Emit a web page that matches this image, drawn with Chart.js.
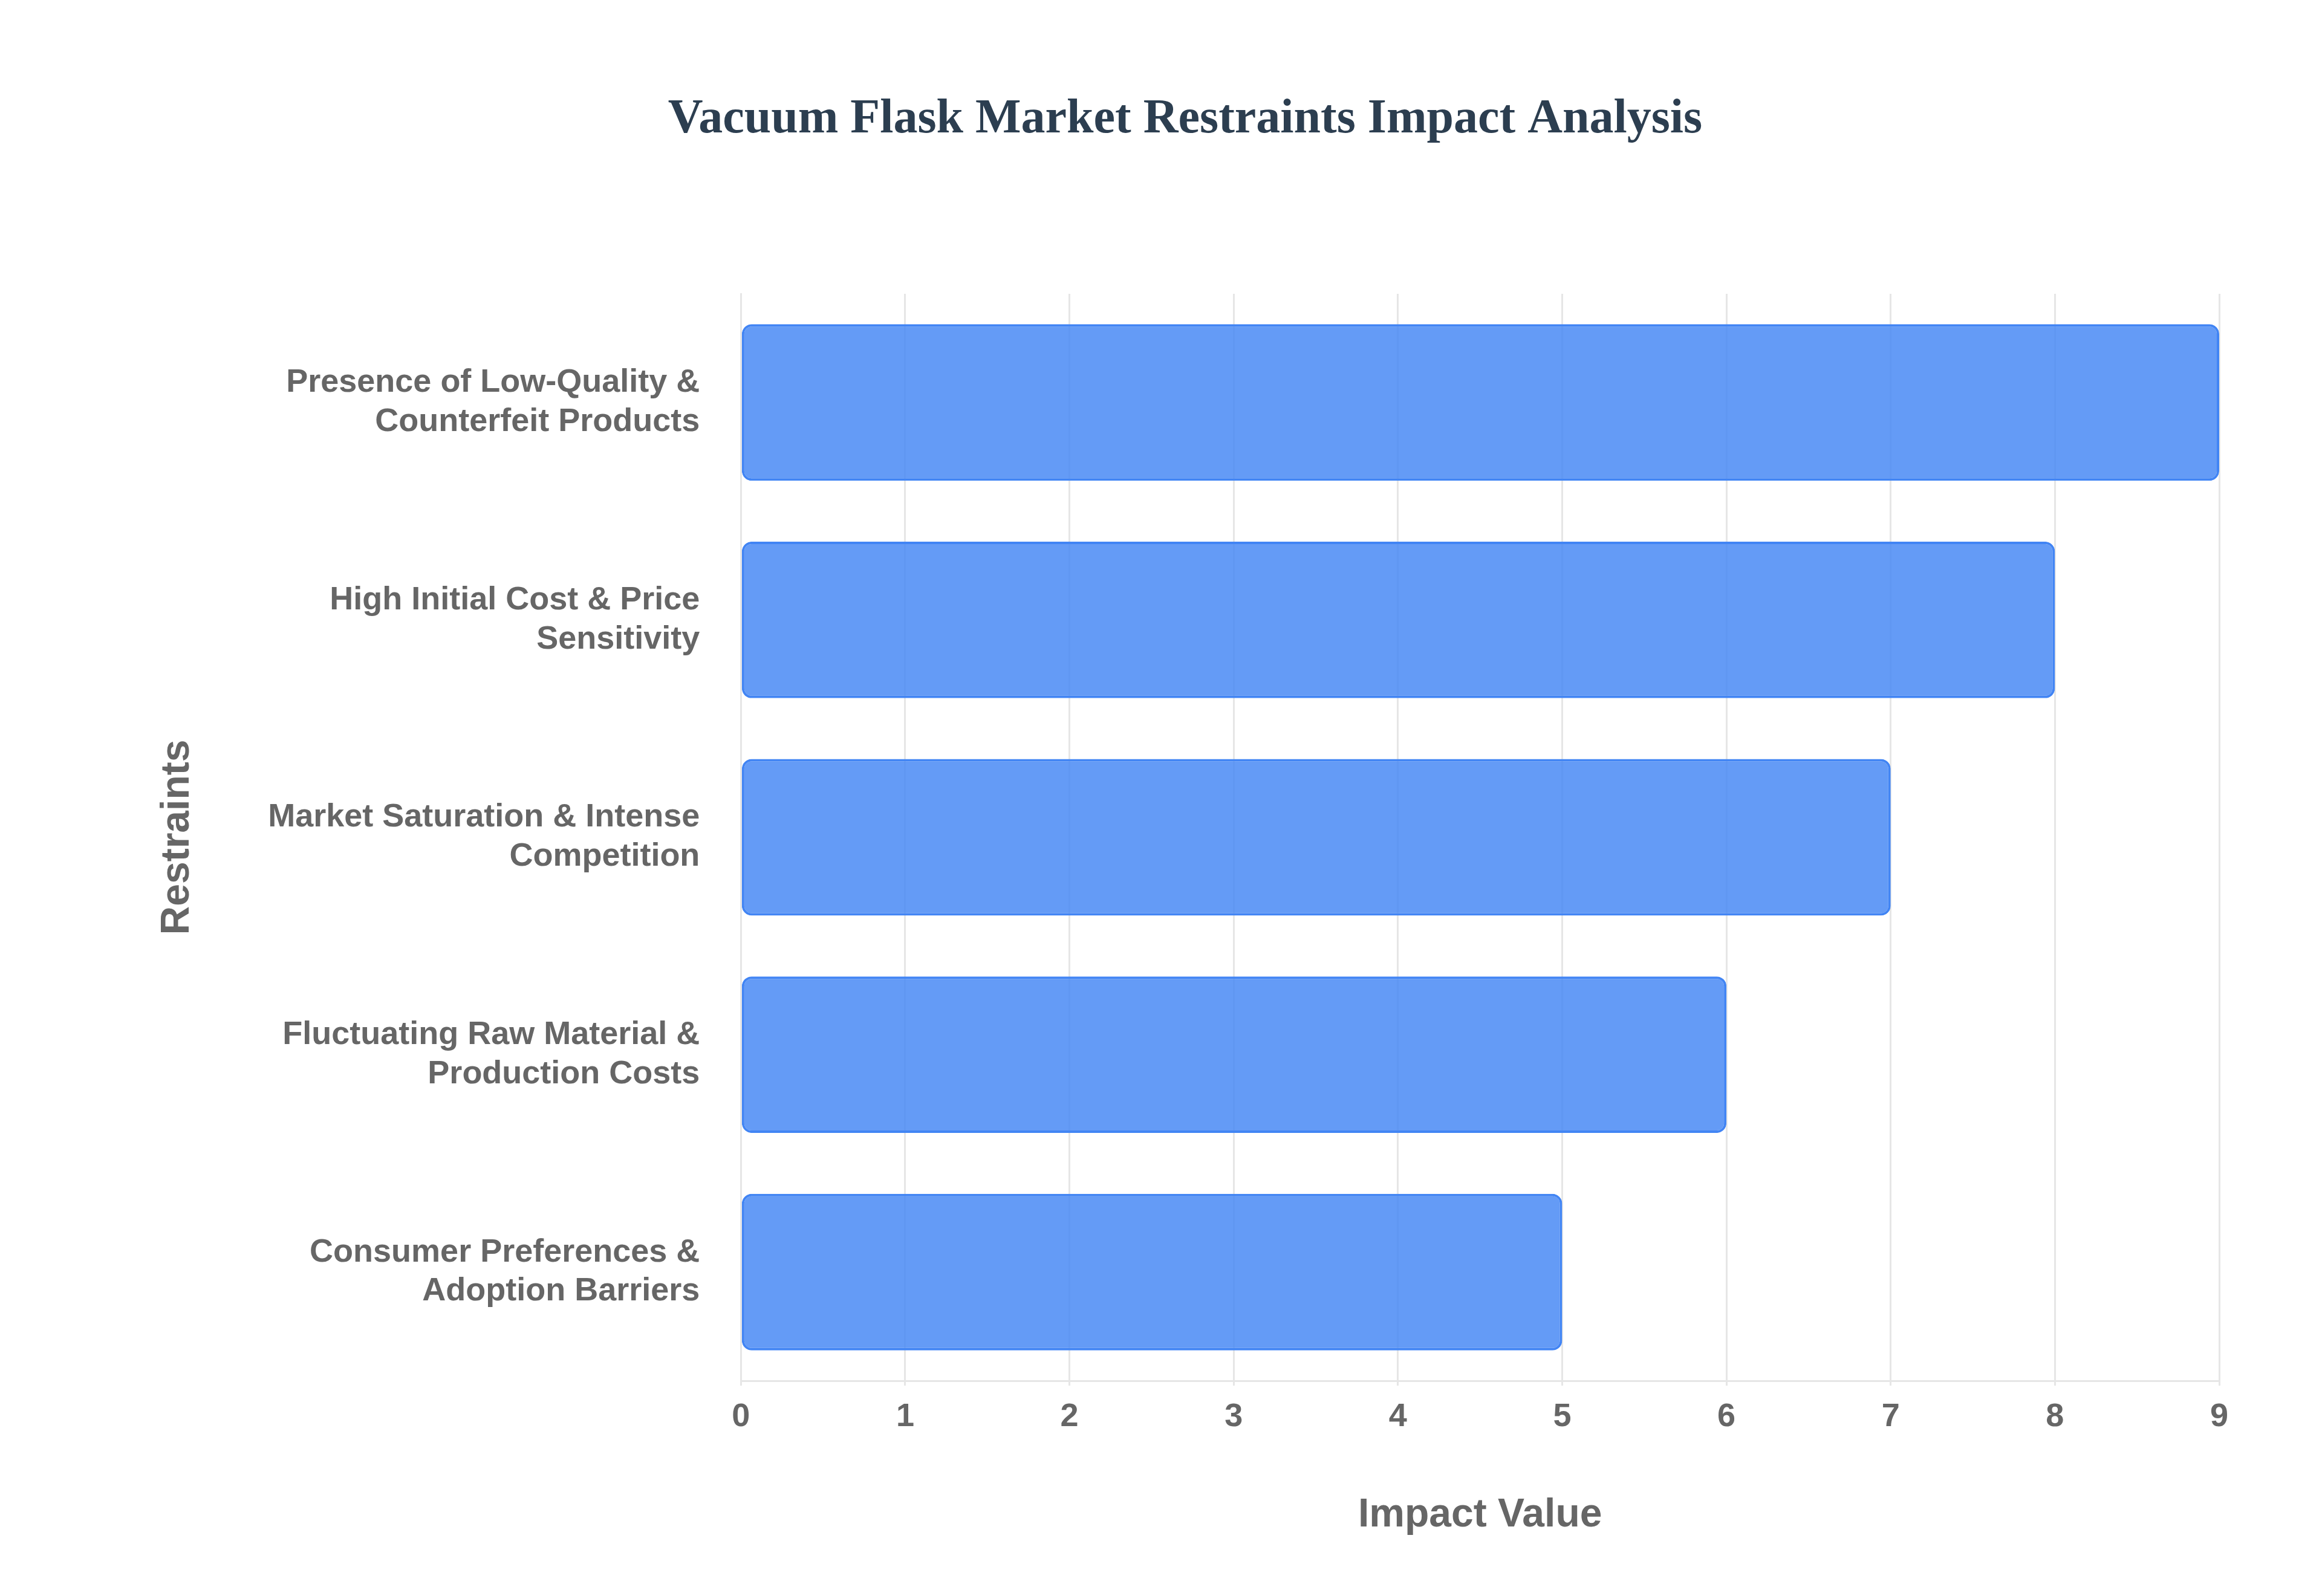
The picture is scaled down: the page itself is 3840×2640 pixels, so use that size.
<!DOCTYPE html>
<html>
<head>
<meta charset="utf-8">
<script src="https://cdn.jsdelivr.net/npm/chart.js@4"></script>
<style>
  html, body { margin: 0; padding: 0; background: #ffffff; }
  #wrap { width: 3840px; height: 2640px; }
</style>
</head>
<body>
<div id="wrap"><canvas id="grafico" width="3840" height="2640"></canvas></div>
<script>
// Datos del gráfico
const restricciones = [
    ['Presence of Low-Quality &', 'Counterfeit Products'],
    ['High Initial Cost & Price', 'Sensitivity'],
    ['Market Saturation & Intense', 'Competition'],
    ['Fluctuating Raw Material &', 'Production Costs'],
    ['Consumer Preferences &', 'Adoption Barriers']
];
const valoresImpacto = [9, 8, 7, 6, 5];
const ticksX = [0, 1, 2, 3, 4, 5, 6, 7, 8, 9];

const ctx = document.getElementById('grafico').getContext('2d');
new Chart(ctx, {
    type: 'bar',
    data: {
        labels: restricciones,
        datasets: [{
            label: 'Impact Value',
            data: valoresImpacto,
            backgroundColor: 'rgba(66, 133, 244, 0.82)',
            borderColor: '#4285f4',
            borderWidth: 4,
            borderRadius: 16,
            borderSkipped: false
        }]
    },
    options: {
        indexAxis: 'y',
        responsive: false,
        devicePixelRatio: 1,
        animation: false,
        layout: { padding: { top: 150, right: 170, bottom: 90, left: 250 } },
        plugins: {
            legend: { display: false },
            title: {
                display: true,
                text: 'Vacuum Flask Market Restraints Impact Analysis',
                color: '#2c3e50',
                font: { family: 'Liberation Serif', size: 80, weight: 'bold' },
                padding: { top: 0, bottom: 240 }
            }
        },
        scales: {
            x: {
                min: 0,
                max: 9,
                afterBuildTicks: axis => { axis.ticks = ticksX.map(v => ({ value: v })); },
                grid: { color: '#e6e6e6', lineWidth: 3 },
                border: { color: '#e6e6e6', width: 3 },
                ticks: { color: '#666666', padding: 20, font: { family: 'Liberation Sans', size: 54, weight: 'bold' } },
                title: {
                    display: true,
                    text: 'Impact Value',
                    color: '#666666',
                    padding: { top: 70 },
                    font: { family: 'Liberation Sans', size: 66, weight: 'bold' }
                }
            },
            y: {
                grid: { display: false },
                border: { color: '#e6e6e6', width: 3 },
                ticks: { color: '#666666', padding: 60, font: { family: 'Liberation Sans', size: 54, weight: 'bold' } },
                title: {
                    display: true,
                    text: 'Restraints',
                    color: '#666666',
                    padding: { bottom: 50 },
                    font: { family: 'Liberation Sans', size: 66, weight: 'bold' }
                }
            }
        }
    }
});
</script>
</body>
</html>
